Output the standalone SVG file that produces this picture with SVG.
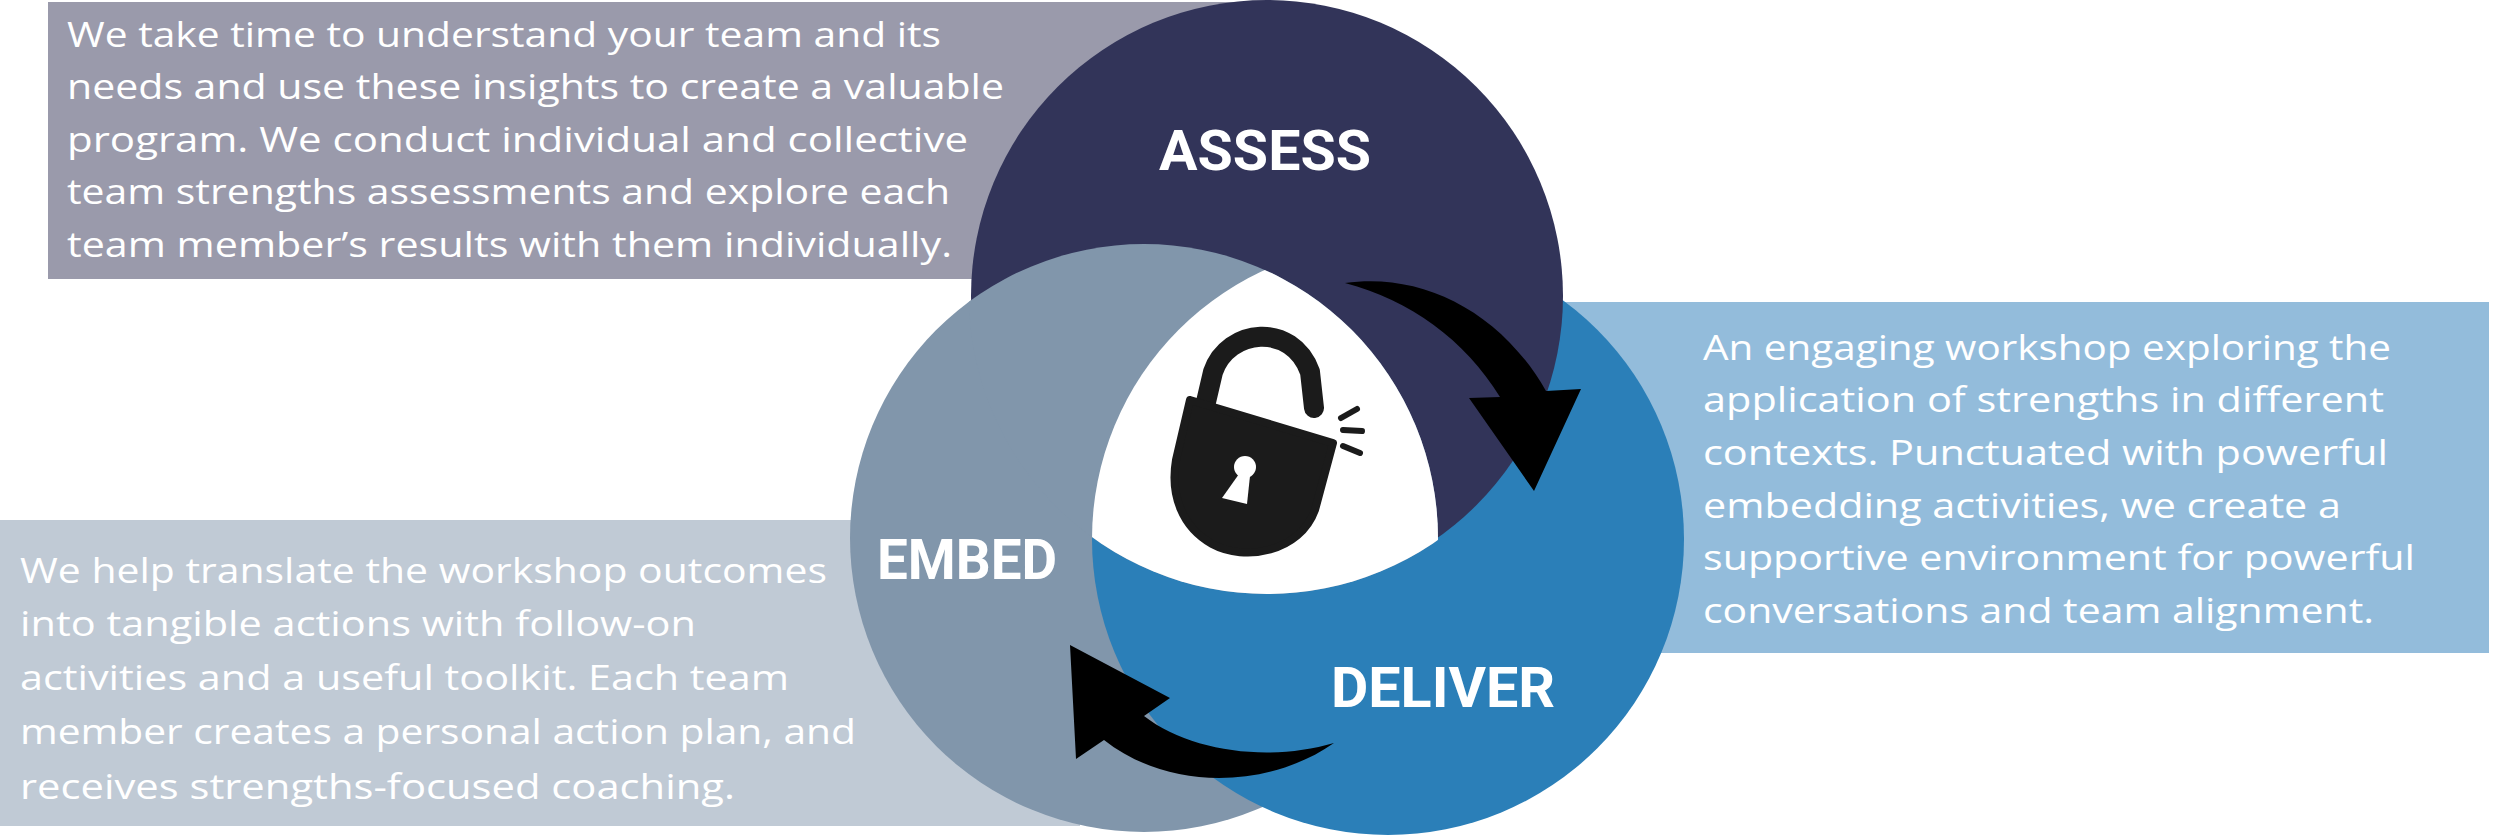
<svg xmlns="http://www.w3.org/2000/svg" width="2500" height="835" viewBox="0 0 2500 835">
<style>
.body{font-family:"Open Sans","Liberation Sans",sans-serif;font-size:34px;fill:#ffffff}
.lbl{font-family:Roboto,"Liberation Sans",sans-serif;font-size:56px;font-weight:bold;fill:#ffffff}
.arrow{fill:#000000}
</style>
<defs>
<clipPath id="cA"><circle cx="1267" cy="296" r="298"/></clipPath>
<clipPath id="cE"><circle cx="1144" cy="538" r="294"/></clipPath>
</defs>
<g id="box-assess"><rect x="48" y="2" width="1228" height="277" fill="#9a9aab"/>
<text class="body" x="67" y="47" textLength="874" lengthAdjust="spacingAndGlyphs">We take time to understand your team and its</text>
<text class="body" x="67" y="99" textLength="937" lengthAdjust="spacingAndGlyphs">needs and use these insights to create a valuable</text>
<text class="body" x="67" y="152" textLength="901" lengthAdjust="spacingAndGlyphs">program.  We conduct individual and collective</text>
<text class="body" x="67" y="204" textLength="883" lengthAdjust="spacingAndGlyphs">team strengths assessments and explore each</text>
<text class="body" x="67" y="257" textLength="885" lengthAdjust="spacingAndGlyphs">team member’s results with them individually.</text>
</g>
<g id="box-deliver"><rect x="1560" y="302" width="929" height="351" fill="#93bcdb"/>
<text class="body" x="1703" y="360" textLength="688" lengthAdjust="spacingAndGlyphs">An engaging workshop exploring the</text>
<text class="body" x="1703" y="412" textLength="681" lengthAdjust="spacingAndGlyphs">application of strengths in different</text>
<text class="body" x="1703" y="465" textLength="685" lengthAdjust="spacingAndGlyphs">contexts. Punctuated with powerful</text>
<text class="body" x="1703" y="518" textLength="638" lengthAdjust="spacingAndGlyphs">embedding activities, we create a</text>
<text class="body" x="1703" y="570" textLength="712" lengthAdjust="spacingAndGlyphs">supportive environment for powerful</text>
<text class="body" x="1703" y="623" textLength="671" lengthAdjust="spacingAndGlyphs">conversations and team alignment.</text>
</g>
<g id="box-embed"><rect x="0" y="520" width="1080" height="306" fill="#c0cad5"/>
<text class="body" x="20" y="583" textLength="807" lengthAdjust="spacingAndGlyphs">We help translate the workshop outcomes</text>
<text class="body" x="20" y="636" textLength="676" lengthAdjust="spacingAndGlyphs">into tangible actions with follow-on</text>
<text class="body" x="20" y="690" textLength="769" lengthAdjust="spacingAndGlyphs">activities and a useful toolkit. Each team</text>
<text class="body" x="20" y="744" textLength="836" lengthAdjust="spacingAndGlyphs">member creates a personal action plan, and</text>
<text class="body" x="20" y="799" textLength="715" lengthAdjust="spacingAndGlyphs">receives strengths-focused coaching.</text>
</g>
<g id="circles">
<circle id="embed" cx="1144" cy="538" r="294" fill="#8196ab"/>
<circle id="deliver" cx="1388" cy="539" r="296" fill="#2b7fb8"/>
<circle id="assess" cx="1267" cy="296" r="296" fill="#323459"/>
<circle cx="1144" cy="538" r="294" fill="#8196ab" clip-path="url(#cA)"/>
<g clip-path="url(#cA)"><circle cx="1388" cy="539" r="296" fill="#ffffff" clip-path="url(#cE)"/></g>
</g>
<g id="labels">
<text class="lbl" x="1159" y="170" textLength="212" lengthAdjust="spacingAndGlyphs">ASSESS</text>
<text class="lbl" x="877" y="579" textLength="180" lengthAdjust="spacingAndGlyphs">EMBED</text>
<text class="lbl" x="1331" y="707" textLength="224" lengthAdjust="spacingAndGlyphs">DELIVER</text>
</g>
<g id="lock">
<path d="M1206,402 L1213,372 C1228,328 1292,322 1310,372 L1314,408" fill="none" stroke="#1b1b1b" stroke-width="20" stroke-linecap="round"/>
<path d="M1190,400 L1333,443 L1315,510 C1300,552 1245,562 1212,544 C1182,527 1170,495 1176,460 Z" fill="#1b1b1b" stroke="#1b1b1b" stroke-width="8" stroke-linejoin="round"/>
<circle cx="1245" cy="467" r="11" fill="#ffffff"/>
<path d="M1239,474 L1250,476 L1247,504 L1222,498 Z" fill="#ffffff"/>
<g stroke="#1b1b1b" stroke-width="6" stroke-linecap="round">
<line x1="1341" y1="418" x2="1357" y2="409"/>
<line x1="1343" y1="430" x2="1362" y2="431"/>
<line x1="1343" y1="446" x2="1360" y2="453"/>
</g>
</g>
<g id="connectors">
<path class="arrow" d="M1345,283 C1420,272 1500,310 1546,391 L1581,389 L1534,491 L1469,398 L1500,397 C1465,340 1410,300 1345,283 Z"/>
<path class="arrow" d="M1334,743 C1270,788 1170,792 1104,740 L1076,759 L1070,645 L1170,698 L1144,716 C1190,752 1270,762 1334,743 Z"/>
</g>
</svg>
